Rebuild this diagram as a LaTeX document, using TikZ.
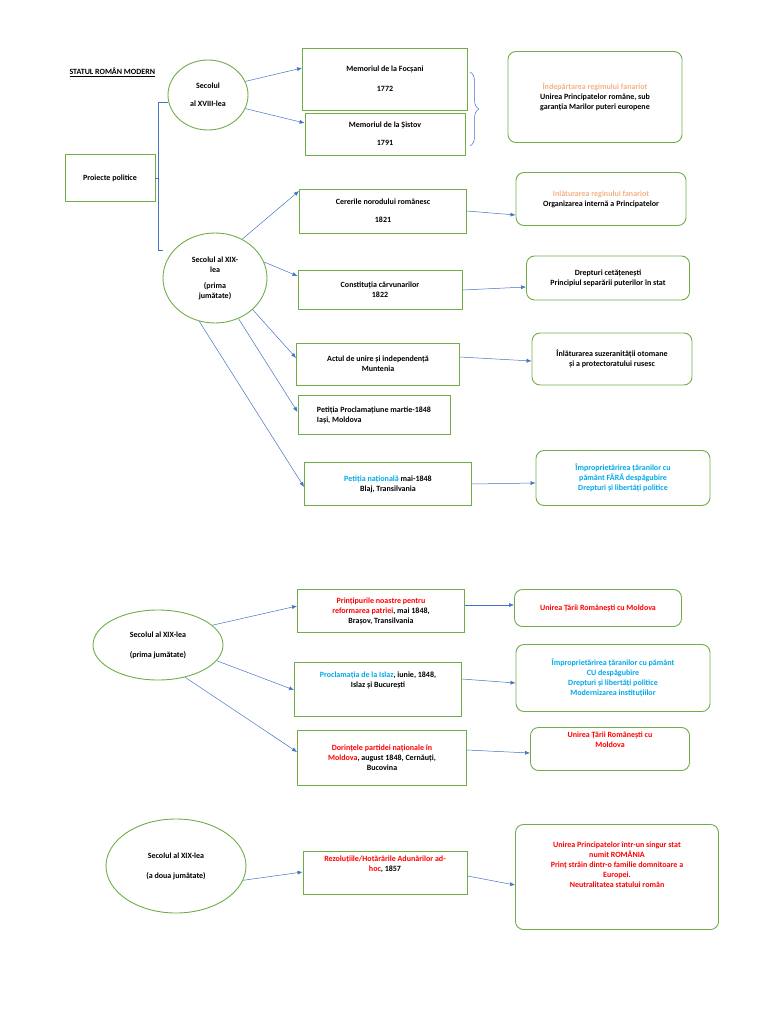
\documentclass[tikz,border=0pt]{standalone}
\usepackage{fontspec}
\setmainfont{Carlito}
\usetikzlibrary{arrows.meta, positioning, shapes.geometric, decorations.pathreplacing}

\definecolor{boxgreen}{HTML}{70AD47}
\definecolor{arrowblue}{HTML}{4472C4}
\definecolor{txtred}{HTML}{FF0000}
\definecolor{txtblue}{HTML}{00A8E8}
\definecolor{txtpeach}{HTML}{F4B183}

\begin{document}
\begin{tikzpicture}[
  x=1pt, y=-1pt,
  every node/.append style={font=\fontsize{8}{10}\selectfont\bfseries},
  box/.style={
    rectangle,
    draw=boxgreen,
    line width=0.9pt,
    align=center,
    inner sep=2pt
  },
  rbox/.style={
    box,
    rounded corners=8pt
  },
  era/.style={
    ellipse,
    draw=boxgreen,
    line width=0.9pt,
    align=center,
    inner sep=0pt
  },
  arrow/.style={-{Latex[length=5pt,width=4pt]}, arrowblue, line width=0.5pt}
]
\useasboundingbox (0,0) rectangle (768,1024);

% Title and root
\node[anchor=west] (title) at (66,72) {\underline{STATUL ROMÂN MODERN}};
\node[box, minimum width=90, minimum height=47] (proj) at (110,178) {Proiecte politice};

% Section 1: XVIII century
\node[era, minimum width=80, minimum height=70] (e18) at (208,95) {Secolul\\[8pt]al XVIII-lea};
\node[box, minimum width=165, minimum height=62] (focs) at (385,79) {Memoriul de la Focșani\\[10pt]1772};
\node[box, minimum width=160, minimum height=42] (sist) at (385,134) {Memoriul de la Șistov\\[8pt]1791};
\node[rbox, minimum width=174, minimum height=91] (r18) at (595,97) {{\color{txtpeach}Îndepărtarea regimului fanariot}\\Unirea Principatelor române, sub\\garanția Marilor puteri europene};

\coordinate (brtop) at (470,72);
\coordinate (brbot) at (470,146);
\draw[arrowblue, line width=0.5pt, decorate, decoration={brace, amplitude=9pt}] (brtop) -- (brbot);

\draw[arrow] (e18.20) -- (focs.west |- 0,68);
\draw[arrow] (e18.-20) -- (sist.west |- 0,123);

% Section 1: XIX century, first half
\node[era, minimum width=104, minimum height=90] (e19) at (215,278) {Secolul al XIX-\\lea\\[6pt](prima\\jumătate)};
\node[box, minimum width=167, minimum height=44] (cer) at (383,211) {Cererile norodului românesc\\[8pt]1821};
\node[rbox, minimum width=170, minimum height=53] (rcer) at (601,199) {{\color{txtpeach}Inlăturarea reginului fanariot}\\Organizarea internă a Principatelor};
\node[box, minimum width=164, minimum height=39] (const) at (380,290) {Constituția cărvunarilor\\1822};
\node[rbox, minimum width=163, minimum height=44] (rconst) at (608,278) {Drepturi cetățenești\\Principiul separării puterilor în stat};
\node[box, minimum width=163, minimum height=42] (act) at (378,364) {Actul de unire și independență\\Muntenia};
\node[rbox, minimum width=160, minimum height=52] (ract) at (612,359) {Înlăturarea suzeranității otomane\\și a protectoratului rusesc};
\node[box, minimum width=152, minimum height=39, align=left] (proc) at (374,415) {Petiția Proclamațiune martie-1848\\ Iași, Moldova};
\node[box, minimum width=167, minimum height=43] (petn) at (388,484) {{\color{txtblue}Petiția națională} mai-1848\\Blaj, Transilvania};
\node[rbox, minimum width=174, minimum height=55, text=txtblue] (rpetn) at (623,478) {Împroprietărirea țăranilor cu\\pământ FĂRĂ despăgubire\\Drepturi și libertăți politice};

\draw[arrow] (e19.55) -- (cer.west |- 0,191);
\draw[arrow] (e19.18) -- (const.west |- 0,276);
\draw[arrow] (e19.-40) -- (act.west |- 0,358);
\draw[arrow] (e19.-60) -- (proc.west |- 0,412);
\draw[arrow] (e19.-110) -- (petn.west |- 0,487);

\draw[arrow] (cer.east) -- (rcer.west |- 0,215);
\draw[arrow] (const.east) -- (rconst.west |- 0,287);
\draw[arrow] (act.east |- 0,357) -- (ract.west |- 0,361);
\draw[arrow] (petn.east) -- (rpetn.west |- 0,483);

% Bracket joining the root to both centuries
\coordinate (bktop) at (158,102);
\coordinate (bkbot) at (158,250);
\draw[arrowblue, line width=0.5pt] (e18.west |- 0,102) -- (bktop) -- (bkbot) -- (e19.west |- 0,250);
\draw[arrowblue, line width=0.5pt] (proj.east) -- (bktop |- proj.east);

% Section 2: XIX century, first half
\node[era, minimum width=130, minimum height=70] (e19b) at (158,645) {Secolul al XIX-lea\\[10pt](prima jumătate)};
\node[box, minimum width=167, minimum height=43] (princ) at (381,611) {{\color{txtred}Prințipurile noastre pentru}\\{\color{txtred}reformarea patriei}, mai 1848,\\Brașov, Transilvania};
\node[rbox, minimum width=167, minimum height=37, text=txtred] (rprinc) at (598,608) {Unirea Țării Românești cu Moldova};
\node[box, minimum width=167, minimum height=54] (islaz) at (378,689) {{\color{txtblue}Proclamația de la Islaz}, iunie, 1848,\\Islaz și București\\[8pt]};
\node[rbox, minimum width=194, minimum height=67, text=txtblue] (rislaz) at (613,678) {Împroprietărirea țăranilor cu pământ\\CU despăgubire\\Drepturi și libertăți politice\\Modernizarea instituțiilor};
\node[box, minimum width=169, minimum height=55] (dor) at (382,758) {{\color{txtred}Dorințele partidei naționale în}\\{\color{txtred}Moldova}, august 1848, Cernăuți,\\Bucovina};
\node[rbox, minimum width=159, minimum height=43, text=txtred] (rdor) at (610,749) {Unirea Țării Românești cu\\Moldova\\[8pt]};

\draw[arrow] (e19b.20) -- (princ.west |- 0,606);
\draw[arrow] (e19b.-15) -- (islaz.west |- 0,690);
\draw[arrow] (e19b.-50) -- (dor.west |- 0,752);

\draw[arrow] (princ.east |- 0,605) -- (rprinc.west |- 0,605);
\draw[arrow] (islaz.east |- 0,679) -- (rislaz.west |- 0,683);
\draw[arrow] (dor.east |- 0,750) -- (rdor.west |- 0,753);

% Section 3: XIX century, second half
\node[era, minimum width=140, minimum height=94] (e19c) at (176,866) {Secolul al XIX-lea\\[10pt](a doua jumătate)};
\node[box, minimum width=164, minimum height=43] (rez) at (385,873) {{\color{txtred}Rezoluțiile/Hotărârile Adunărilor ad-}\\{\color{txtred}hoc}, 1857\\[8pt]};
\node[rbox, minimum width=203, minimum height=105, text=txtred] (rrez) at (617,877) {Unirea Principatelor într-un singur stat\\numit ROMÂNIA\\Prinț străin dintr-o familie domnitoare a\\Europei.\\Neutralitatea statului român\\[14pt]};

\draw[arrow] (e19c.-12) -- (rez.west |- 0,872);
\draw[arrow] (rez.east |- 0,876) -- (rrez.west |- 0,885);

\end{tikzpicture}
\end{document}
